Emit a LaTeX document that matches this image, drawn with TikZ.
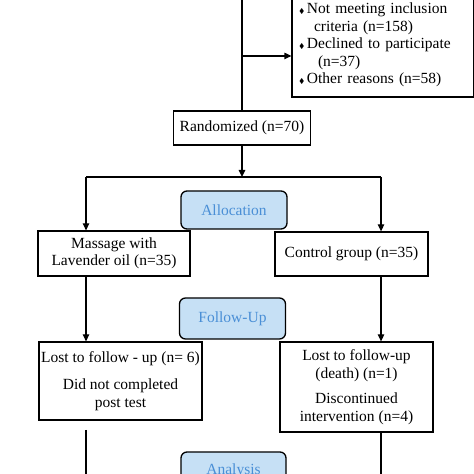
\documentclass[tikz,border=0pt]{standalone}
\usepackage{amssymb}
\usepackage{fontspec}
\setmainfont{Liberation Serif}
\usetikzlibrary{positioning,arrows.meta}
\definecolor{phasefill}{HTML}{C6E0F5}
\definecolor{phasetext}{HTML}{4A8FD6}
\tikzset{box/.style={rectangle,draw,line width=1.3pt,align=center,inner sep=1pt},
  phase/.style={rectangle,draw,rounded corners=6pt,line width=1.3pt,fill=phasefill,text=phasetext,minimum width=106pt,minimum height=38pt},
  flow/.style={line width=1.3pt}}
\newcommand{\bul}{{\scriptsize$\blacklozenge$}\,}

\begin{document}
\begin{tikzpicture}[>={Triangle[length=7pt,width=6.5pt]},x=1pt,y=1pt,font=\fontsize{15.5}{17.5}\selectfont]
    \clip (0,0) rectangle (474,474);
    \node[box,minimum width=182pt,minimum height=104pt,align=left,text width=168pt] (excl) at (383,429) {\bul Not meeting inclusion\\ \hspace{15pt}criteria (n=158)\\ \bul Declined to participate\\ \hspace{19pt}(n=37)\\ \bul Other reasons (n=58)};
    \node[box,minimum width=137pt,minimum height=34pt] (rand) at (242,346) {Randomized (n=70)};
    \node[phase] (alloc) at (234,264) {Allocation};
    \node[box,minimum width=152pt,minimum height=45pt] (mass) at (114,220.5) {Massage with\\ Lavender oil (n=35)};
    \node[box,minimum width=153pt,minimum height=44pt] (ctrl) at (351.5,220) {Control group (n=35)};
    \node[phase,minimum height=41pt] (follow) at (232.5,155.5) {Follow-Up};
    \node[box,minimum width=163pt,minimum height=78pt] (lostm) at (120.5,93) {Lost to follow - up (n= 6)\\[10pt] Did not completed\\ post test};
    \node[box,minimum width=153pt,minimum height=90pt] (lostc) at (356.5,87) {Lost to follow-up\\ (death) (n=1)\\[8pt] Discontinued\\ intervention (n=4)};
    \node[phase,minimum width=105pt] (analysis) at (233.5,3) {Analysis};

    \coordinate (top) at (242,480);
    \coordinate (split) at (242,418);
    \coordinate (jn) at (242,297);
    \coordinate (jl) at (86,297);
    \coordinate (jr) at (381,297);
    \coordinate (lm) at (86,44);
    \coordinate (lmend) at (86,-10);
    \coordinate (lcend) at (381,-10);

    \draw [flow] (top) to [] (rand);
    \draw [flow,->] (split) to [] (excl.west|-split);
    \draw [flow,->] (rand) to [] (jn);
    \draw [flow] (jl) to [] (jr);
    \draw [flow,->] (jl) to [] (jl|-mass.north);
    \draw [flow,->] (jr) to [] (jr|-ctrl.north);
    \draw [flow,->] (mass.south-|jl) to [] (lostm.north-|jl);
    \draw [flow,->] (ctrl.south-|jr) to [] (lostc.north-|jr);
    \draw [flow] (lm) to [] (lmend);
    \draw [flow] (lostc.south-|jr) to [] (lcend);
\end{tikzpicture}
\end{document}
